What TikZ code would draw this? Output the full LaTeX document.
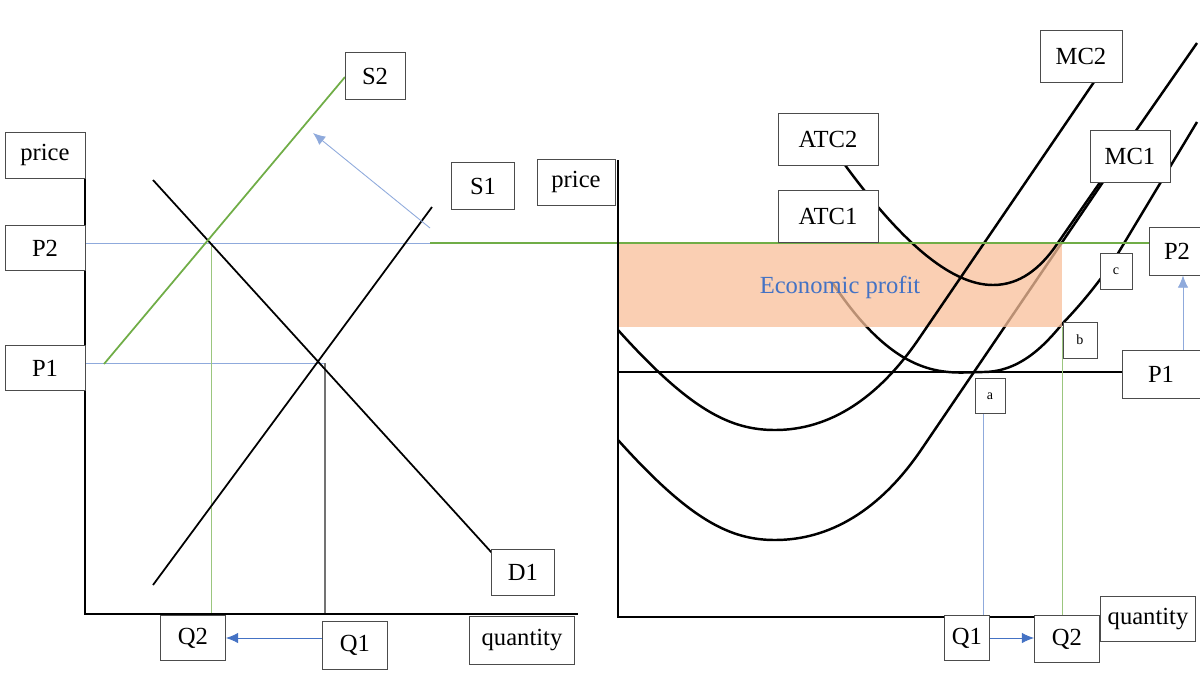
\documentclass[tikz,border=0pt]{standalone}
\usepackage{fontspec}
\setmainfont{Liberation Serif}
\usetikzlibrary{arrows.meta}
\definecolor{lblue}{HTML}{8FAADC}
\definecolor{mblue}{HTML}{4472C4}
\definecolor{lgreen}{HTML}{70AD47}
\definecolor{profit}{HTML}{F8BF9A}
\begin{document}
\begin{tikzpicture}[x=0.02cm,y=-0.02cm,
 box/.style={draw=black!70,fill=white,line width=0.5pt,inner sep=0pt,font=\fontsize{14}{16}\selectfont},
 sbox/.style={box,font=\fontsize{8}{9}\selectfont},
 ax/.style={black,line width=1pt},
 crv/.style={black,line width=1.4pt},
 thinb/.style={lblue,line width=0.5pt},
 thing/.style={lgreen!70,line width=0.4pt},
 grn/.style={lgreen,line width=1pt},
 barr/.style={-{Latex[length=7pt,width=6pt]},mblue,line width=0.5pt,shorten <=0pt},
 barrl/.style={barr,lblue}]
\useasboundingbox (0,0) rectangle (1200,691);
% ---- left panel
\coordinate (yl) at (85,158); \coordinate (ol) at (85,614); \coordinate (xl) at (578,614);
\coordinate (e1) at (325,363); \coordinate (e2) at (211,243);
\draw[thinb] (85,243) -- (430,243);
\draw[grn] (430,243) -- (618,243);
\draw[thinb] (85,363) -- (e1);
\draw[thing] (e2) -- (211,614);
\draw[black!55,line width=0.6pt] (e1) -- (325,614);
\draw[black,line width=1pt] (153,180) coordinate(d0) -- (492,553) coordinate(d1);
\draw[black,line width=1pt] (153,585) -- (432,207) coordinate(s1e);
\draw[grn] (104,364) -- (345,77) coordinate(s2e);
\draw[barr,-{Latex[length=7pt,width=6pt]},draw=lblue] (430,228) coordinate(ar1) -- (313,133) coordinate(ar2);
\draw[ax] (yl) -- (ol) -- (xl);
% ---- right panel
\coordinate (or) at (618,617);
\draw[crv] (832,282) .. controls (900,385) and (950,372) .. (983,372) .. controls (1020,372) and (1045,345) .. (1063,323) .. controls (1090,295) and (1110,267) .. (1120,250) -- (1197,122);
\draw[crv] (618,440) .. controls (690,520) and (730,540) .. (775,540) .. controls (830,540) and (880,510) .. (921,450) -- (1103,182);
\fill[fill=profit,fill opacity=0.75] (618,243) rectangle (1062,327);
\node[text=mblue,font=\fontsize{14}{16}\selectfont] (ep) at (840,287) {Economic profit};
\draw[crv] (618,330) .. controls (690,410) and (730,430) .. (775,430) .. controls (830,430) and (878,398) .. (918,340) -- (1094,82);
\draw[crv] (845,165) .. controls (900,240) and (950,285) .. (993,285) .. controls (1020,285) and (1040,268) .. (1055,247) -- (1197,43);
\draw[black,line width=1pt] (618,372) -- (1122,372);
\draw[grn] (618,243) -- (1150,243);
\draw[thinb] (983,413) -- (983,617);
\draw[thing] (1062,327) -- (1062,617);
\draw[ax] (618,160) -- (or) -- (1100,617);
% ---- boxes left
\node[box,minimum width=1.6cm,minimum height=0.92cm] (price1) at (45,155) {price};
\node[box,minimum width=1.6cm,minimum height=0.9cm] (P2l) at (45,248) {P2};
\node[box,minimum width=1.6cm,minimum height=0.9cm] (P1l) at (45,368) {P1};
\node[box,minimum width=1.2cm,minimum height=0.94cm] (S2) at (375,76) {S2};
\node[box,minimum width=1.26cm,minimum height=0.94cm] (S1) at (483,186) {S1};
\node[box,minimum width=1.56cm,minimum height=0.92cm] (price2) at (576,182) {price};
\node[box,minimum width=1.26cm,minimum height=0.92cm] (D1) at (523,572) {D1};
\node[box,minimum width=1.3cm,minimum height=0.9cm] (Q2l) at (193,638) {Q2};
\node[box,minimum width=1.3cm,minimum height=0.96cm] (Q1l) at (355,645) {Q1};
\node[box,minimum width=2.1cm,minimum height=0.96cm] (qty1) at (522,640) {quantity};
\draw[barr] (Q1l.west |- Q2l.east) -- (Q2l.east);
% ---- boxes right
\node[box,minimum width=2cm,minimum height=1.04cm] (ATC2) at (828,139) {ATC2};
\node[box,minimum width=2cm,minimum height=1.04cm] (ATC1) at (828,216) {ATC1};
\node[box,minimum width=1.64cm,minimum height=1.04cm] (MC2) at (1081,56) {MC2};
\node[box,minimum width=1.6cm,minimum height=1.04cm] (MC1) at (1130,156) {MC1};
\node[box,minimum width=1.1cm,minimum height=0.96cm] (P2r) at (1177,251) {P2};
\node[box,minimum width=1.56cm,minimum height=0.96cm] (P1r) at (1161,374) {P1};
\node[sbox,minimum width=0.64cm,minimum height=0.72cm] (c) at (1116,271) {c};
\node[sbox,minimum width=0.68cm,minimum height=0.72cm] (b) at (1080,340) {b};
\node[sbox,minimum width=0.6cm,minimum height=0.7cm] (a) at (990,396) {a};
\node[box,minimum width=0.9cm,minimum height=0.9cm] (Q1r) at (967,638) {Q1};
\node[box,minimum width=1.3cm,minimum height=0.94cm] (Q2r) at (1067,639) {Q2};
\node[box,minimum width=1.9cm,minimum height=0.9cm] (qty2) at (1148,619) {quantity};
\draw[barr] (Q1r.east) -- (Q2r.west |- Q1r.east);
\draw[barr,draw=lblue] ([xshift=0.44cm]P1r.north) -- ([xshift=0.44cm]P1r.north |- P2r.south);
\end{tikzpicture}
\end{document}
